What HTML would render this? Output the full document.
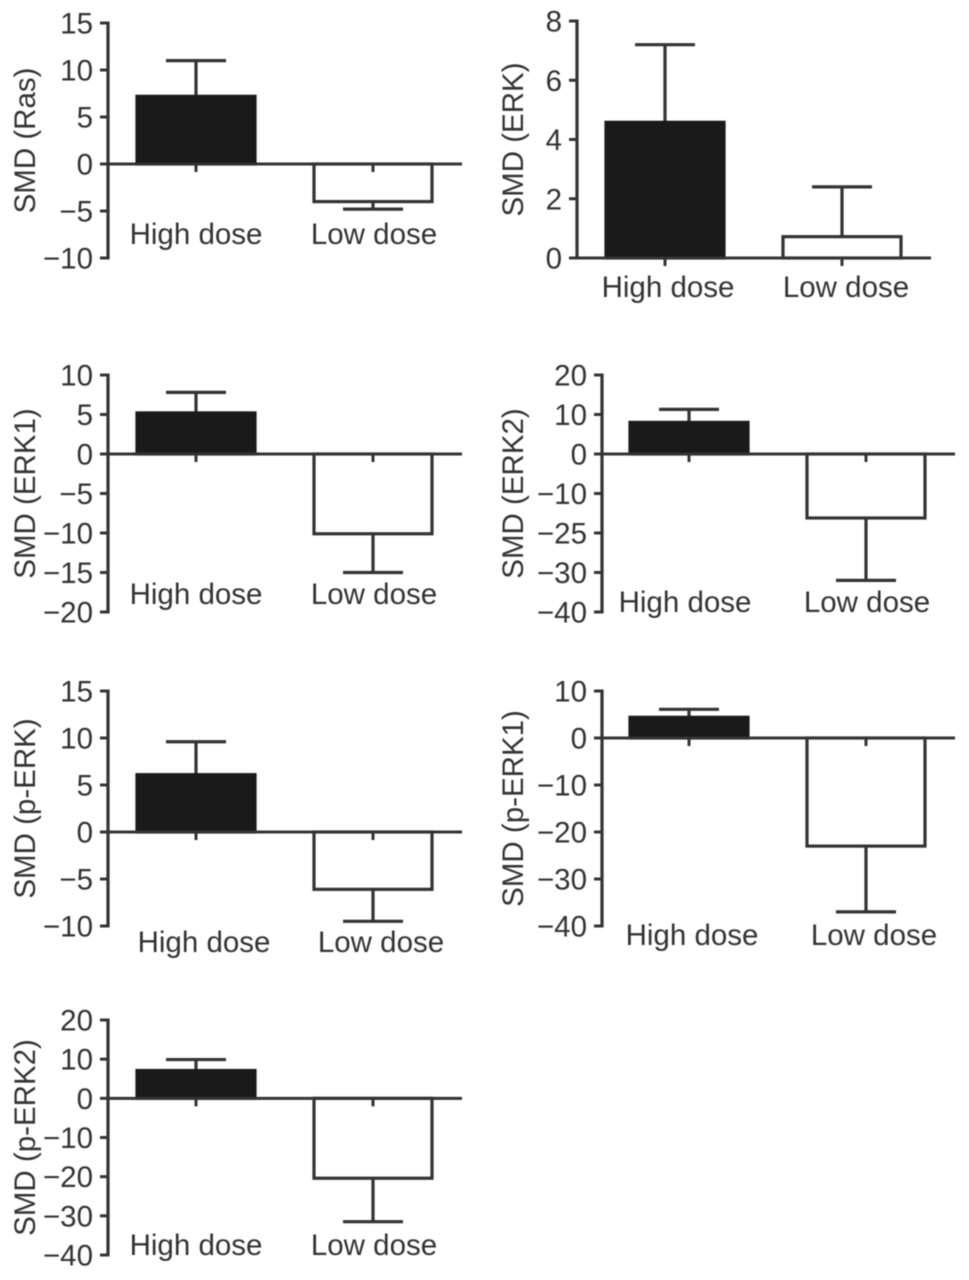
<!DOCTYPE html>
<html lang="en">
<head>
<meta charset="utf-8">
<title>SMD by dose panels</title>
<style>
html,body{margin:0;padding:0;background:#fff;}
#figure{display:block;width:969px;height:1280px;}
text{font-family:"Liberation Sans",Arial,sans-serif;font-size:29.5px;fill:#333;}
.soft{filter:blur(0.55px);}
</style>
</head>
<body>
<svg id="figure" xmlns="http://www.w3.org/2000/svg" width="969" height="1280" viewBox="0 0 969 1280"></svg>
<script>
const categories = ['High dose', 'Low dose'];

const rasMeans = [7.2, -4.0];
const rasErrors = [11.0, -4.8];
const rasTicks = [15, 10, 5, 0, -5, -10];
const rasTickLabels = ['15', '10', '5', '0', '−5', '−10'];

const erkMeans = [4.58, 0.72];
const erkErrors = [7.2, 2.4];
const erkTicks = [8, 6, 4, 2, 0];
const erkTickLabels = ['8', '6', '4', '2', '0'];

const erk1Means = [5.2, -10.1];
const erk1Errors = [7.8, -15.0];
const erk1Ticks = [10, 5, 0, -5, -10, -15, -20];
const erk1TickLabels = ['10', '5', '0', '−5', '−10', '−15', '−20'];

const erk2Means = [8.0, -16.2];
const erk2Errors = [11.3, -32.0];
const erk2Ticks = [20, 10, 0, -10, -20, -30, -40];
const erk2TickLabels = ['20', '10', '0', '−10', '−25', '−30', '−40'];

const pErkMeans = [6.1, -6.1];
const pErkErrors = [9.6, -9.5];
const pErkTicks = [15, 10, 5, 0, -5, -10];
const pErkTickLabels = ['15', '10', '5', '0', '−5', '−10'];

const pErk1Means = [4.4, -23.0];
const pErk1Errors = [6.1, -37.0];
const pErk1Ticks = [10, 0, -10, -20, -30, -40];
const pErk1TickLabels = ['10', '0', '−10', '−20', '−30', '−40'];

const pErk2Means = [7.1, -20.4];
const pErk2Errors = [9.9, -31.5];
const pErk2Ticks = [20, 10, 0, -10, -20, -30, -40];
const pErk2TickLabels = ['20', '10', '0', '−10', '−20', '−30', '−40'];

const NS = 'http://www.w3.org/2000/svg';
const INK = '#333333';
const BAR_DARK = '#1a1a1a';
const svg = document.getElementById('figure');

function make(parent, tag, attrs) {
  const el = document.createElementNS(NS, tag);
  Object.keys(attrs).forEach(function (k) { el.setAttribute(k, attrs[k]); });
  parent.appendChild(el);
  return el;
}

function drawLine(parent, x1, y1, x2, y2, width) {
  return make(parent, 'line', { x1: x1, y1: y1, x2: x2, y2: y2, stroke: INK, 'stroke-width': width });
}

function drawPanel(cfg) {
  const g = make(svg, 'g', { class: 'soft' });
  
  

  const yMax = Math.max.apply(null, cfg.ticks);
  const yMin = Math.min.apply(null, cfg.ticks);
  const yScale = function (v) {
    return cfg.top + (yMax - v) / (yMax - yMin) * (cfg.bottom - cfg.top);
  };
  const xScale = function (i) { return cfg.barCenters[i]; };
  const zero = yScale(0);

  // y title
  const title = make(g, 'text', {
    x: 0, y: 0, 'text-anchor': 'middle',
    transform: 'translate(' + cfg.titleX + ',' + ((cfg.top + cfg.bottom) / 2) + ') rotate(-90)'
  });
  title.textContent = cfg.title;
  
  

  // bars and error bars
  categories.forEach(function (cat, i) {
    const cx = xScale(i);
    const halfBar = 59;
    const yVal = yScale(cfg.means[i]);
    const yErr = yScale(cfg.errors[i]);

    const stem = drawLine(g, cx, yVal, cx, yErr, 3.2);
    
    

    const cap = drawLine(g, cx - 30, yErr, cx + 30, yErr, 3.2);
    
    

    const bar = make(g, 'rect', {
      x: cx - halfBar,
      y: Math.min(yVal, zero),
      width: halfBar * 2,
      height: Math.abs(zero - yVal),
      fill: i === 0 ? BAR_DARK : '#ffffff',
      stroke: i === 0 ? BAR_DARK : INK,
      'stroke-width': 3.2
    });
    
    

    const xTick = drawLine(g, cx, zero, cx, zero + 8, 3);
    
    

    const label = make(g, 'text', { x: cfg.labelCenters[i], y: cfg.labelY, 'text-anchor': 'middle' });
    label.textContent = cat;
    
    
  });

  // axes
  const yAxis = drawLine(g, cfg.axisX, cfg.top - 1.5, cfg.axisX, cfg.bottom + 1.5, 3.2);
  
  

  const xAxis = drawLine(g, cfg.axisX, zero, cfg.axisEnd, zero, 3);
  
  

  cfg.ticks.forEach(function (t, i) {
    const y = yScale(t);
    const tick = drawLine(g, cfg.axisX - 8, y, cfg.axisX, y, 3);
    
    

    const lab = make(g, 'text', { x: cfg.axisX - 15, y: y + 10.5, 'text-anchor': 'end' });
    lab.textContent = cfg.tickLabels[i];
    
    
  });
}

drawPanel({
  name: 'ras', title: 'SMD (Ras)', means: rasMeans, errors: rasErrors, ticks: rasTicks, tickLabels: rasTickLabels,
  axisX: 108, axisEnd: 462, top: 23, bottom: 258, titleX: 35,
  barCenters: [196, 373], labelCenters: [196, 374], labelY: 244
});
drawPanel({
  name: 'erk', title: 'SMD (ERK)', means: erkMeans, errors: erkErrors, ticks: erkTicks, tickLabels: erkTickLabels,
  axisX: 577, axisEnd: 931, top: 21, bottom: 258, titleX: 523,
  barCenters: [665, 842], labelCenters: [668, 846], labelY: 297
});
drawPanel({
  name: 'erk1', title: 'SMD (ERK1)', means: erk1Means, errors: erk1Errors, ticks: erk1Ticks, tickLabels: erk1TickLabels,
  axisX: 108, axisEnd: 462, top: 375, bottom: 612, titleX: 35,
  barCenters: [196, 373], labelCenters: [196, 374], labelY: 604
});
drawPanel({
  name: 'erk2', title: 'SMD (ERK2)', means: erk2Means, errors: erk2Errors, ticks: erk2Ticks, tickLabels: erk2TickLabels,
  axisX: 602, axisEnd: 955, top: 375, bottom: 612, titleX: 523,
  barCenters: [689, 866], labelCenters: [685, 867], labelY: 612
});
drawPanel({
  name: 'p-erk', title: 'SMD (p-ERK)', means: pErkMeans, errors: pErkErrors, ticks: pErkTicks, tickLabels: pErkTickLabels,
  axisX: 108, axisEnd: 462, top: 691, bottom: 926, titleX: 35,
  barCenters: [196, 373], labelCenters: [204, 381], labelY: 952
});
drawPanel({
  name: 'p-erk1', title: 'SMD (p-ERK1)', means: pErk1Means, errors: pErk1Errors, ticks: pErk1Ticks, tickLabels: pErk1TickLabels,
  axisX: 602, axisEnd: 955, top: 691, bottom: 926, titleX: 523,
  barCenters: [689, 866], labelCenters: [692, 874], labelY: 945
});
drawPanel({
  name: 'p-erk2', title: 'SMD (p-ERK2)', means: pErk2Means, errors: pErk2Errors, ticks: pErk2Ticks, tickLabels: pErk2TickLabels,
  axisX: 108, axisEnd: 462, top: 1020, bottom: 1255, titleX: 35,
  barCenters: [196, 373], labelCenters: [196, 374], labelY: 1255
});
</script>
</body>
</html>
